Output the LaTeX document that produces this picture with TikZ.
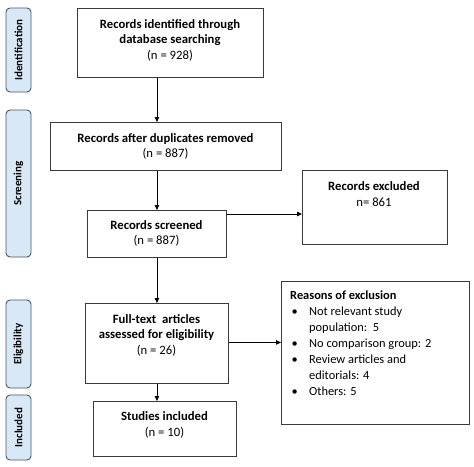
\documentclass[tikz,border=0pt]{standalone}
\usepackage{fontspec}
\setmainfont{Carlito}
\usetikzlibrary{arrows.meta}
\definecolor{sidefill}{HTML}{D9E8F6}
\definecolor{sidedraw}{HTML}{4A5563}
\definecolor{boxline}{HTML}{3A3A3A}
\begin{document}
\begin{tikzpicture}[x=1pt,y=-1pt,
  box/.style={draw=boxline, line width=0.9pt, inner sep=0pt, anchor=north west},
  txt/.style={align=center, inner sep=0pt, font=\fontsize{12.7}{15.5}\selectfont},
  side/.style={draw=sidedraw, fill=sidefill, line width=0.9pt, rounded corners=4pt,
    rotate=90, inner sep=0pt, minimum height=25pt, font=\bfseries\fontsize{11}{12}\selectfont},
  arr/.style={draw=black, line width=0.8pt, -{Triangle[length=5pt,width=4.5pt]}}]
\fill[white] (0,0) rectangle (474,466);
\useasboundingbox (0,0) rectangle (474,466);
% side labels
\node[side, minimum width=84pt] (s1) at (18.5,50) {Identification};
\node[side, minimum width=147pt] (s2) at (18.5,183.5) {Screening};
\node[side, minimum width=88pt] (s3) at (18.5,344) {Eligibility};
\node[side, minimum width=65pt] (s4) at (18.5,427.5) {Included};
% boxes
\node[box, minimum width=186pt, minimum height=69pt] (b1) at (77,8) {};
\node[box, minimum width=231pt, minimum height=48pt] (b2) at (50,122) {};
\node[box, minimum width=139pt, minimum height=47pt] (b3) at (87,210) {};
\node[box, minimum width=145pt, minimum height=74pt] (ex) at (302,170) {};
\node[box, minimum width=143pt, minimum height=80pt] (fu) at (85,303) {};
\node[box, minimum width=143pt, minimum height=55pt] (st) at (93,401) {};
\node[box, minimum width=188pt, minimum height=143pt] (re) at (281,281) {};
% texts
\node[txt] (t1) at (170,40) {\textbf{Records identified through}\\\textbf{database searching}\\(n = 928)};
\node[txt] (t2) at (165.5,146.5) {\textbf{Records after duplicates removed}\\(n = 887)};
\node[txt] (t3) at (156.5,233.5) {\textbf{Records screened}\\(n = 887)};
\node[txt] (t4) at (374,194) {\textbf{Records excluded}\\n= 861};
\node[txt] (t5) at (156.5,335) {\textbf{Full-text\ \ articles}\\\textbf{assessed for eligibility}\\(n = 26)};
\node[txt] (t6) at (164.5,425) {\textbf{Studies included}\\(n = 10)};
\node[inner sep=0pt, align=left, anchor=north west, font=\fontsize{12.4}{16}\selectfont] (t7) at (290,291)
 {\textbf{Reasons of exclusion}\\
  \hspace*{1.5pt}\makebox[17.5pt][l]{\textbullet}Not relevant study\\
  \hspace*{19pt}population:\ \ 5\\
  \hspace*{1.5pt}\makebox[17.5pt][l]{\textbullet}No comparison group: 2\\
  \hspace*{1.5pt}\makebox[17.5pt][l]{\textbullet}Review articles and\\
  \hspace*{19pt}editorials: 4\\
  \hspace*{1.5pt}\makebox[17.5pt][l]{\textbullet}Others: 5};
% arrows
\draw[arr] (b1.south -| b3.north) -- (b2.north -| b3.north);
\draw[arr] (b2.south -| b3.north) -- (b3.north);
\draw[arr] (b3.south) -- (fu.north -| b3.south);
\draw[arr] (fu.south -| b3.south) -- (st.north -| b3.south);
\draw[arr] ([yshift=-4pt]b3.north east) -- ([yshift=-4pt]b3.north east -| ex.west);
\draw[arr] ([yshift=1pt]fu.east) -- ([yshift=1pt]fu.east -| re.west);
\end{tikzpicture}
\end{document}
